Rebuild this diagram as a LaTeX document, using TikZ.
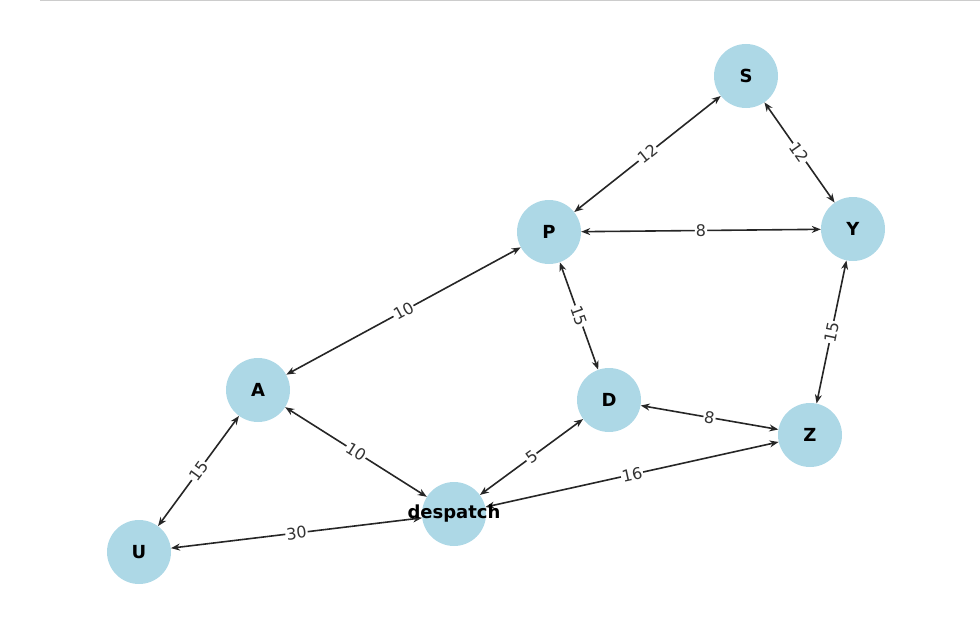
\documentclass[tikz,border=0pt]{standalone}
\usepackage{fontspec}
\setmainfont{DejaVu Sans}
\usetikzlibrary{arrows.meta}
\begin{document}
\begin{tikzpicture}[x=1pt,y=-1pt,
  nd/.style={circle,fill={rgb,255:red,173;green,216;blue,230},minimum size=64pt,inner sep=0pt,font=\fontsize{18}{18}\selectfont\bfseries},
  ed/.style={{Stealth[length=9pt,width=7pt]}-{Stealth[length=9pt,width=7pt]},line width=1.6pt,black!85},
  lb/.style={fill=white,inner sep=1pt,sloped,font=\fontsize{16}{16}\selectfont,text=black!80}]
\useasboundingbox (0,0) rectangle (980,618);
\draw[gray!40] (40,0.5) -- (980,0.5);
\node[nd] (S) at (746,76) {S};
\node[nd] (Y) at (853,229) {Y};
\node[nd] (P) at (549,232) {P};
\node[nd] (A) at (258,390) {A};
\node[nd] (D) at (609,400) {D};
\node[nd] (Z) at (810,435) {Z};
\node[nd] (E) at (454,514) {};
\node[nd] (U) at (139,552) {U};
\draw[ed] (P) -- node[lb]{12} (S);
\draw[ed] (S) -- node[lb]{12} (Y);
\draw[ed] (P) -- node[lb]{8} (Y);
\draw[ed] (A) -- node[lb]{10} (P);
\draw[ed] (P) -- node[lb]{15} (D);
\draw[ed] (Y) -- node[lb]{15} (Z);
\draw[ed] (D) -- node[lb]{8} (Z);
\draw[ed] (A) -- node[lb]{10} (E);
\draw[ed] (E) -- node[lb]{5} (D);
\draw[ed] (E) -- node[lb]{16} (Z);
\draw[ed] (U) -- node[lb]{15} (A);
\draw[ed] (U) -- node[lb]{30} (E);
\node[font=\fontsize{18}{18}\selectfont\bfseries,inner sep=0pt] (Et) at (E.center) {despatch};
\end{tikzpicture}
\end{document}
